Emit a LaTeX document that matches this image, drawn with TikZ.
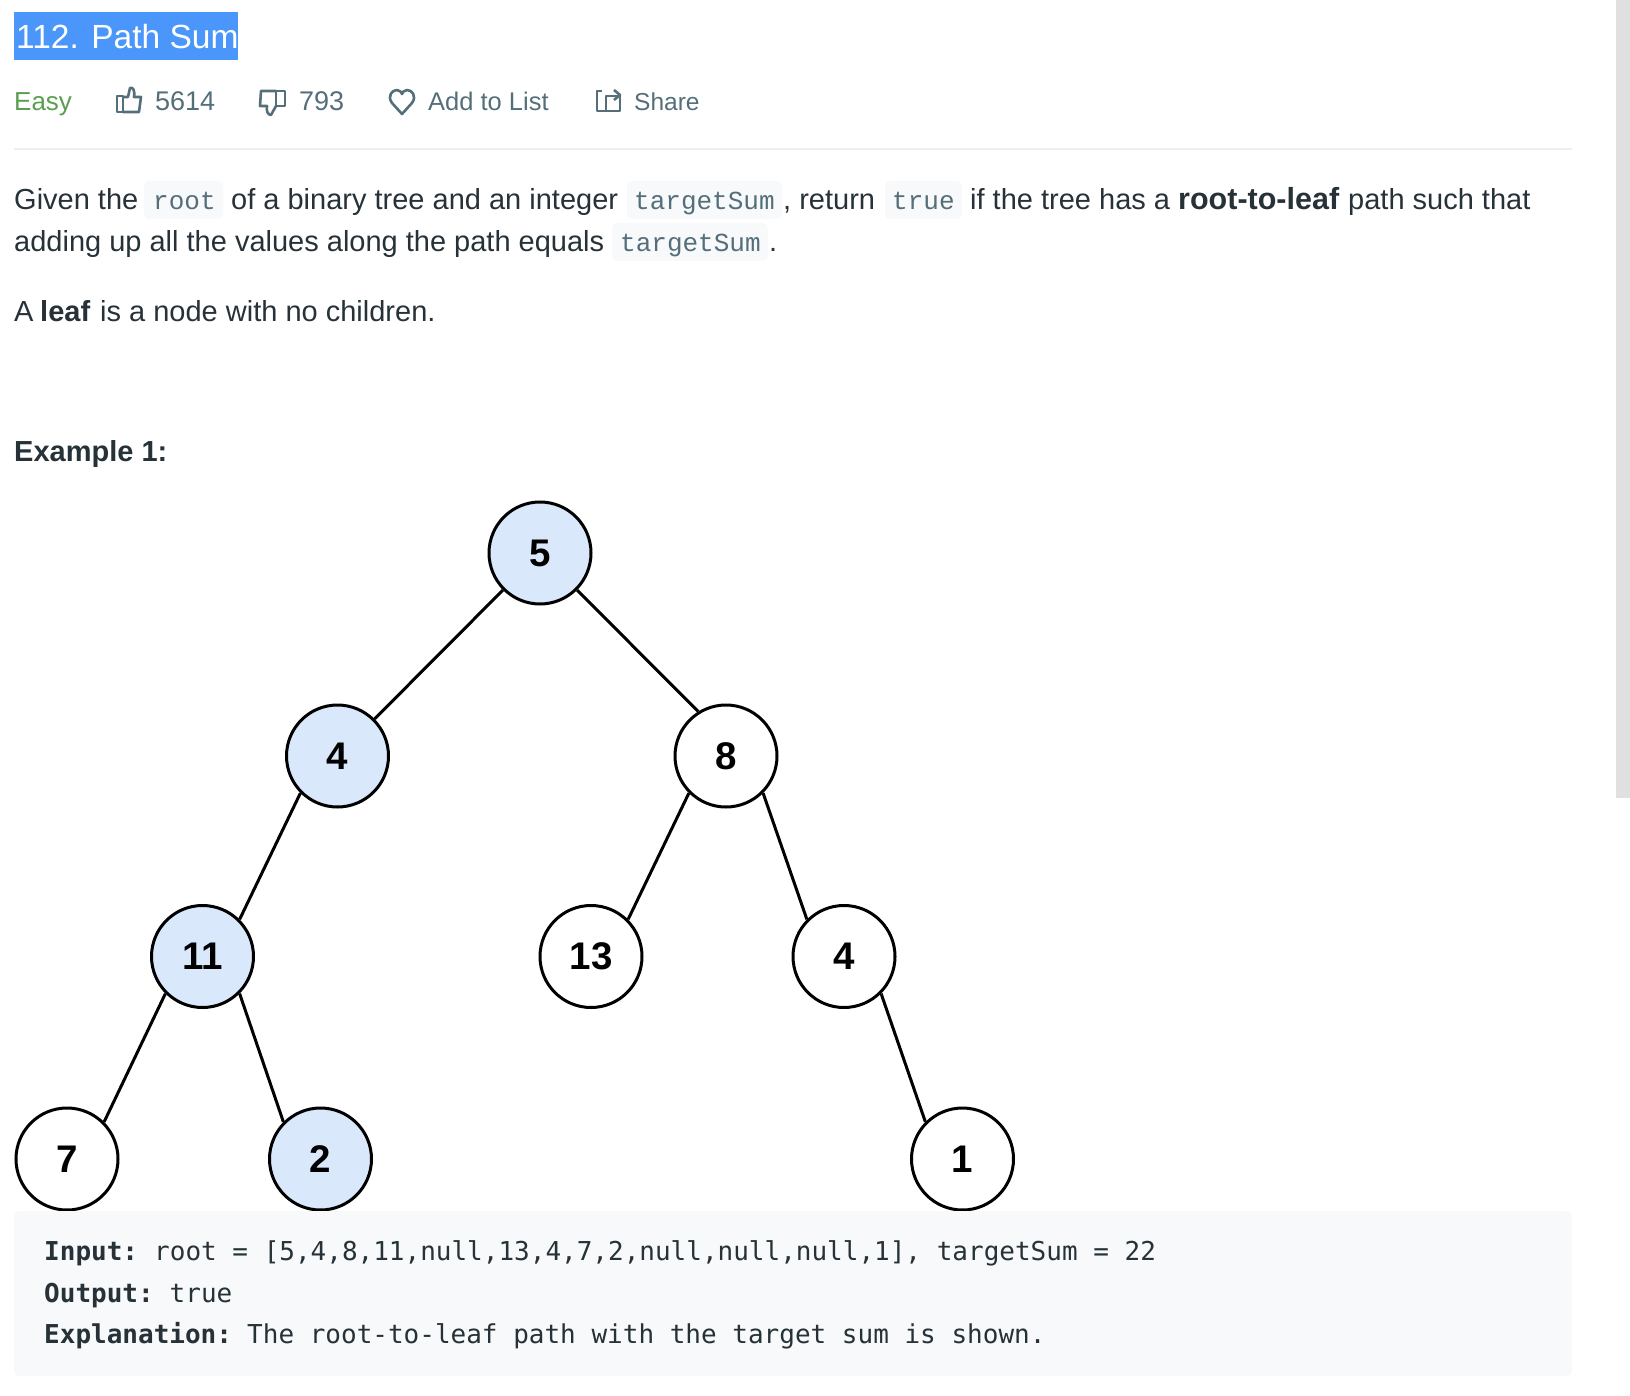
\documentclass[tikz,border=0pt]{standalone}
\usepackage{fontspec}
\usepackage{xcolor}
\setmainfont{Liberation Sans}
\newfontfamily\chipfont{Liberation Mono}
\newfontfamily\blockfont{DejaVu Sans Mono}
\definecolor{ink}{HTML}{263238}
\definecolor{mute}{HTML}{546E7A}
\definecolor{easy}{HTML}{5A9E50}
\definecolor{chipg}{HTML}{F7F9FA}
\definecolor{hilite}{HTML}{4A96FA}
\definecolor{rulegr}{HTML}{EEEEEE}
\definecolor{barg}{HTML}{E0E0E0}
\definecolor{pathb}{HTML}{DAE8FC}
\tikzset{
  txt/.style={anchor=base west,inner sep=0pt,ink,font=\fontsize{29}{34}\selectfont},
  bold/.style={txt,font=\fontsize{29}{34}\selectfont\bfseries},
  stat/.style={txt,mute,font=\fontsize{27}{32}\selectfont},
  word/.style={txt,mute,font=\fontsize{25.5}{32}\selectfont},
  code/.style={anchor=base west,inner sep=0pt,mute,font=\fontsize{26}{32}\chipfont},
  blk/.style={anchor=base west,inner sep=0pt,ink,font=\fontsize{26}{32}\blockfont},
  blkb/.style={blk,font=\fontsize{26}{32}\blockfont\bfseries},
  chipbox/.style={fill=chipg,rounded corners=5pt},
  icon/.style={draw=mute,line width=2.6pt,line join=round,fill=none},
  tn/.style={circle,draw=black,line width=3pt,fill=white,minimum size=102pt,inner sep=0pt,font=\fontsize{38.5}{39}\selectfont\bfseries},
  tp/.style={tn,fill=pathb},
  tedge/.style={black,line width=3pt},
}
\begin{document}
\begin{tikzpicture}[x=1pt,y=-1pt]
  \useasboundingbox (0,0) rectangle (1630,1396);
  \fill[barg] (1616,0) rectangle (1630,798);
  % head
  \fill[hilite] (14,12) rectangle (238,60);
  \node[txt,white,font=\fontsize{33.5}{38}\selectfont] (title) at (16,49) {112. Path Sum};
  \node[txt,easy,font=\fontsize{26}{32}\selectfont] (lvl) at (14,111) {Easy};
  \node[stat] (ups) at (155,111) {5614};
  \node[stat] (downs) at (299,111) {793};
  \node[word] (add) at (428,111) {Add to List};
  \node[txt,mute,font=\fontsize{24.5}{32}\selectfont] (share) at (634,111) {Share};
  \draw[icon] (117,96) rectangle (123,112);
  \draw[icon] (123,97) -- (128,97) -- (130,88) .. controls (133,87) and (135,90) .. (134,97) -- (141,97) -- (139,112) -- (123,112);
  \draw[icon] (276,91) rectangle (285,106);
  \draw[icon] (276,91) -- (261,91) -- (260,106) -- (267,106) .. controls (266,111) and (268,115) .. (271,115) -- (276,106);
  \draw[icon] (402,114) -- (392,103) .. controls (387,96) and (392,90) .. (397,90) .. controls (400,90) and (402,93) .. (402,94) .. controls (402,93) and (404,90) .. (407,90) .. controls (412,90) and (417,96) .. (412,103) -- cycle;
  \draw[icon] (602,91) -- (597,91) -- (597,111) -- (620,111) -- (620,96) -- (606,96) -- (606,111);
  \draw[icon] (614,90) -- (620,95) -- (614,100);
  \fill[rulegr] (14,148) rectangle (1572,150);
  % text
  \fill[chipbox] (144,181) rectangle (223,219);
  \fill[chipbox] (627,181) rectangle (782,219);
  \fill[chipbox] (885,181) rectangle (962,219);
  \fill[chipbox] (612,223) rectangle (768,261);
  \node[txt] (a1) at (14,210) {Given the};
  \node[code] (a2) at (153,210) {root};
  \node[txt] (a3) at (231,210) {of a binary tree and an integer};
  \node[code] (a4) at (634,210) {targetSum};
  \node[txt] (a5) at (783,210) {, return};
  \node[code] (a6) at (892,210) {true};
  \node[txt] (a7) at (970,210) {if the tree has a};
  \node[bold,font=\fontsize{30.5}{34}\selectfont\bfseries] (a8) at (1178,210) {root-to-leaf};
  \node[txt] (a9) at (1348,210) {path such that};
  \node[txt] (b1) at (14,252) {adding up all the values along the path equals};
  \node[code] (b2) at (620,252) {targetSum};
  \node[txt] (b3) at (769,252) {.};
  \node[txt] (c1) at (14,322) {A};
  \node[bold] (c2) at (40,322) {leaf};
  \node[txt] (c3) at (100,322) {is a node with no children.};
  \node[bold] (ex) at (14,461) {Example 1:};
  % tree
  \node[tp] (r) at (540,553) {5};
  \node[tp] (l) at (337.5,756) {4};
  \node[tn] (q) at (726,756) {8};
  \node[tp] (ll) at (202.5,956.5) {11};
  \node[tn] (ql) at (591,956.5) {13};
  \node[tn] (qr) at (844,956.5) {4};
  \node[tn] (lll) at (67,1159) {7};
  \node[tp] (llr) at (320.5,1159) {2};
  \node[tn] (qrr) at (962.5,1159) {1};
  \draw[tedge] (r.south west) -- (l.north east);
  \draw[tedge] (r.south east) -- (q.122);
  \draw[tedge] (l.south west) -- (ll.north east);
  \draw[tedge] (q.south west) -- (ql.north east);
  \draw[tedge] (q.south east) -- (qr.north west);
  \draw[tedge] (ll.south west) -- (lll.north east);
  \draw[tedge] (ll.south east) -- (llr.north west);
  \draw[tedge] (qr.south east) -- (qrr.north west);
  % example box
  \fill[chipg,rounded corners=6pt] (14,1211) rectangle (1572,1376);
  \node[blkb] (k1) at (44,1260) {Input:};
  \node[blk] (v1) at (154,1260) {root = [5,4,8,11,null,13,4,7,2,null,null,null,1], targetSum = 22};
  \node[blkb] (k2) at (44,1302) {Output:};
  \node[blk] (v2) at (169.5,1302) {true};
  \node[blkb] (k3) at (44,1343) {Explanation:};
  \node[blk] (v3) at (247,1343) {The root-to-leaf path with the target sum is shown.};
\end{tikzpicture}
\end{document}
